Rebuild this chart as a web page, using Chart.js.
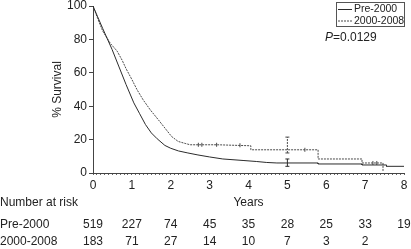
<!DOCTYPE html>
<html><head><meta charset="utf-8">
<script src="https://cdn.jsdelivr.net/npm/chart.js@4/dist/chart.umd.min.js"></script>
<style>html,body{margin:0;padding:0;background:#fff;}#wrap{width:411px;height:249px;}</style>
</head><body><div id="wrap"><canvas id="c" width="411" height="249"></canvas></div>
<script>
const seriesNames = ['Pre-2000', '2000-2008'];
const preTimes    = [0, 0.12, 0.25, 0.49, 0.67, 0.85, 1.05, 1.2, 1.35, 1.5, 1.65, 1.85, 2.0, 2.2, 2.44, 2.7, 3.0, 3.34, 3.86, 4.2, 4.47, 4.73, 5.79, 5.79, 6.92, 6.92, 7.55, 7.55, 8.0];
const preSurvival = [100, 93.5, 86.5, 74, 63.5, 53, 42, 35.5, 29, 24, 20.5, 16.5, 14.8, 13.2, 12, 10.8, 9.6, 8.4, 7.5, 6.9, 6.3, 6.0, 6.0, 5.4, 5.4, 4.8, 4.8, 4.0, 4.0];
const postTimes    = [0, 0.12, 0.25, 0.45, 0.62, 0.75, 0.85, 1.0, 1.13, 1.29, 1.47, 1.68, 1.85, 2.02, 2.19, 2.37, 2.5, 3.2, 4.06, 4.06, 5.79, 5.79, 6.92, 6.92, 7.46, 7.46];
const postSurvival = [100, 92.5, 85, 77.5, 73, 67.5, 62.5, 56, 50, 43.8, 37.9, 31.9, 26.9, 21.9, 18.9, 17.7, 16.9, 16.9, 16.3, 13.9, 13.9, 8.4, 8.4, 6.0, 6.0, 1.0];
const postCensorTimes    = [2.71, 2.80, 3.18, 3.78, 5.45, 7.2, 7.3];
const postCensorSurvival = [16.9, 16.9, 16.9, 16.6, 13.9, 6.0, 6.0];
const ciTime = 5;
const preCI  = [4.0, 8.4];
const postCI = [12.0, 21.5];
const riskYears = [0, 1, 2, 3, 4, 5, 6, 7, 8];
const riskPre   = [519, 227, 74, 45, 35, 28, 25, 33, 19];
const riskPost  = [183, 71, 27, 14, 10, 7, 3, 2, null];
const pLabel = 'P';
const pValueText = '=0.0129';
const riskTitle = 'Number at risk';

const FONT = '"Liberation Sans", Arial, Helvetica, sans-serif';
const SOLID = '#2b2b2b';
const DOT = '#4a4a4a';
const DASH = [2, 1];

const toXY = (xs, ys) => xs.map((x, i) => ({x: x, y: ys[i]}));

const extras = {
  id: 'extras',
  afterDraw(chart) {
    const ctx = chart.ctx;
    const xs = chart.scales.x;
    ctx.save();
    // P value
    ctx.fillStyle = '#222';
    ctx.textBaseline = 'middle';
    ctx.textAlign = 'left';
    ctx.font = 'italic 12px ' + FONT;
    const px = 325, py = 38;
    ctx.fillText(pLabel, px, py);
    const pw = ctx.measureText(pLabel).width;
    ctx.font = '12px ' + FONT;
    ctx.fillText(pValueText, px + pw, py);
    // Legend
    ctx.strokeStyle = '#555';
    ctx.lineWidth = 1;
    ctx.strokeRect(336.5, 2.5, 68, 24);
    ctx.font = '10.5px ' + FONT;
    const rows = [{y: 9, c: SOLID, d: []}, {y: 20.5, c: DOT, d: DASH}];
    rows.forEach((r, i) => {
      ctx.beginPath();
      ctx.setLineDash(r.d);
      ctx.strokeStyle = r.c;
      ctx.moveTo(338, r.y + 0.5); ctx.lineTo(352, r.y + 0.5);
      ctx.stroke();
      ctx.setLineDash([]);
      ctx.fillStyle = '#222';
      ctx.fillText(chart.data.datasets[i].label, 354, r.y + 0.5);
    });
    // Number at risk table
    ctx.font = '12px ' + FONT;
    ctx.fillStyle = '#222';
    ctx.textAlign = 'left';
    ctx.fillText(riskTitle, 0, 203);
    ctx.fillText(seriesNames[0], 0, 225);
    ctx.fillText(seriesNames[1], 0, 242);
    ctx.textAlign = 'center';
    riskYears.forEach((yr, i) => {
      const xp = xs.getPixelForValue(yr);
      if (riskPre[i] != null) ctx.fillText(String(riskPre[i]), xp, 225);
      if (riskPost[i] != null) ctx.fillText(String(riskPost[i]), xp, 242);
    });
    ctx.restore();
  }
};

new Chart(document.getElementById('c'), {
  type: 'line',
  data: {
    datasets: [
      {label: seriesNames[0], data: toXY(preTimes, preSurvival), borderColor: SOLID, borderWidth: 1, pointRadius: 0, tension: 0, fill: false},
      {label: seriesNames[1], data: toXY(postTimes, postSurvival), borderColor: DOT, borderWidth: 1, borderDash: DASH, pointRadius: 0, tension: 0, fill: false},
      {label: 'ci1', data: [{x: ciTime, y: preCI[0]}, {x: ciTime, y: preCI[1]}], borderColor: SOLID, borderWidth: 1, pointStyle: 'line', pointRadius: 2, pointBorderColor: SOLID, pointBorderWidth: 1},
      {label: 'ci2', data: [{x: ciTime, y: postCI[0]}, {x: ciTime, y: postCI[1]}], borderColor: DOT, borderWidth: 1, borderDash: DASH, pointStyle: 'line', pointRadius: 2, pointBorderColor: DOT, pointBorderWidth: 1},
      {label: 'cens', data: toXY(postCensorTimes, postCensorSurvival), showLine: false, pointStyle: 'line', rotation: 90, pointRadius: 2, pointBorderColor: DOT, pointBorderWidth: 1}
    ]
  },
  options: {
    responsive: false,
    devicePixelRatio: 1,
    animation: false,
    layout: {padding: {left: 0, right: 7, top: 6, bottom: 39}},
    plugins: {legend: {display: false}, tooltip: {enabled: false}},
    scales: {
      x: {
        type: 'linear', min: 0, max: 8,
        ticks: {stepSize: 0.1, autoSkip: false, maxRotation: 0, padding: 3, color: '#222', font: {family: FONT, size: 12},
          callback: v => Math.abs(v - Math.round(v)) < 1e-6 ? String(Math.round(v)) : ''},
        grid: {drawOnChartArea: false, tickLength: 2, color: '#666'},
        border: {color: '#444'},
        title: {display: true, text: 'Years', color: '#222', font: {family: FONT, size: 12}, padding: 0},
        afterFit: s => { s.height = 37; s.paddingLeft = 0; s.paddingRight = 0; }
      },
      y: {
        min: 0, max: 100,
        ticks: {stepSize: 10, padding: 2, color: '#222', font: {family: FONT, size: 12},
          callback: v => (Math.round(v) % 20 === 0) ? String(Math.round(v)) : ''},
        grid: {drawOnChartArea: false, tickLength: 4, color: '#444'},
        border: {color: '#444'},
        title: {display: true, text: '% Survival', color: '#222', font: {family: FONT, size: 12}, padding: {top: 50, bottom: 0}},
        afterFit: s => { s.width = 93; s.paddingTop = 0; s.paddingBottom = 0; }
      }
    }
  },
  plugins: [extras]
});
</script></body></html>
